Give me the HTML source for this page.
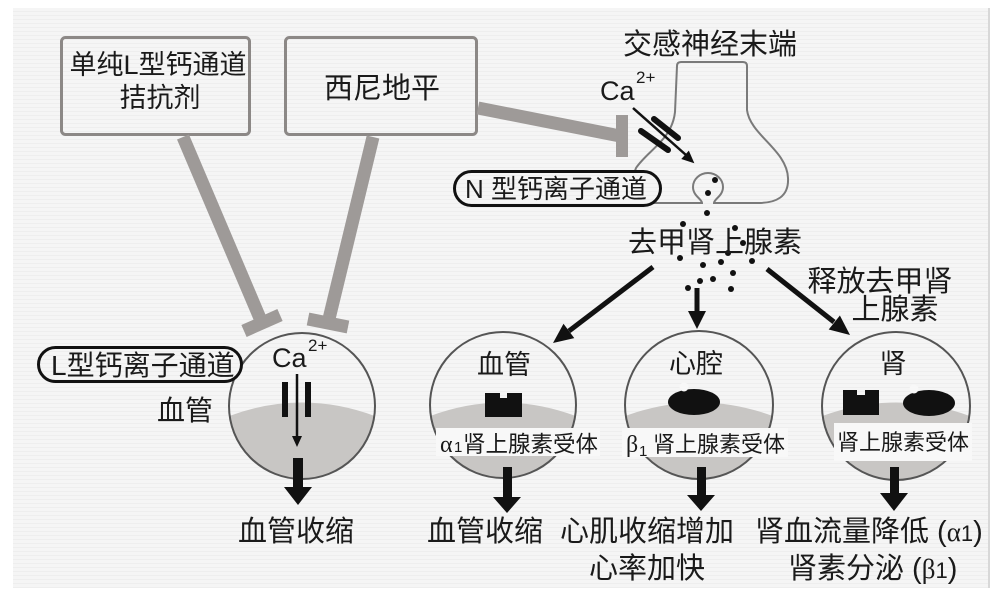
<!DOCTYPE html>
<html><head><meta charset="utf-8"><style>
html,body{margin:0;padding:0;background:#fff;}
svg{display:block;}
text{font-family:"Liberation Sans","Noto Sans CJK SC",sans-serif;fill:#1a1a1a;}
.g{font-family:"Liberation Serif","Noto Sans CJK SC",serif;}
</style></head><body>
<svg width="1000" height="601" viewBox="0 0 1000 601" xmlns="http://www.w3.org/2000/svg">
<defs>
<pattern id="st" width="4" height="4" patternUnits="userSpaceOnUse">
<rect width="4" height="4" fill="#f5f5f5"/><rect y="3" width="4" height="1" fill="#eeeeee"/>
</pattern>
<clipPath id="c1"><circle cx="302" cy="406" r="73"/></clipPath>
<clipPath id="c2"><circle cx="503" cy="405" r="73"/></clipPath>
<clipPath id="c3"><circle cx="699" cy="405" r="74"/></clipPath>
<clipPath id="c4"><circle cx="896" cy="406" r="74"/></clipPath>
</defs>
<rect width="1000" height="601" fill="#fff"/>
<rect x="13" y="8" width="976" height="580" fill="url(#st)"/>
<line x1="989" y1="8" x2="989" y2="588" stroke="#d8d8d8" stroke-width="2"/>

<!-- boxes -->
<rect x="61.5" y="37.5" width="188" height="97" rx="4" fill="none" stroke="#8c8886" stroke-width="3"/>
<rect x="285.5" y="37.5" width="191" height="97" rx="4" fill="none" stroke="#8c8886" stroke-width="3"/>
<text x="158" y="74" font-size="27" text-anchor="middle">单纯L型钙通道</text>
<text x="160" y="107" font-size="27" text-anchor="middle">拮抗剂</text>
<text x="382" y="98" font-size="29" text-anchor="middle">西尼地平</text>

<!-- inhibition lines -->
<g stroke="#9e9a98" stroke-width="13" fill="none">
<line x1="183" y1="137" x2="262" y2="323"/>
<line x1="244" y1="331" x2="280" y2="315"/>
<line x1="373" y1="137" x2="328" y2="323"/>
<line x1="308" y1="319" x2="348" y2="327"/>
<line x1="478" y1="108" x2="620" y2="136"/>
</g>
<rect x="616" y="115" width="12" height="42" fill="#9e9a98"/>

<!-- nerve terminal -->
<text x="710" y="54" font-size="29" text-anchor="middle">交感神经末端</text>
<path d="M 640 203 C 633 196, 631 180, 636 168 C 648 150, 672 140, 675 112 L 677 66 Q 677 62 681 62 L 743 62 Q 747 62 747 66 L 747 110 C 750 135, 787 150, 788 178 C 789 197, 776 203, 758 203 L 714 203 C 714 199, 723 196, 723 187 A 15 14 0 1 0 693 187 C 693 196, 702 199, 702 203 Z" fill="url(#st)" stroke="#7a7a7a" stroke-width="2"/>
<text x="600" y="100" font-size="27">Ca</text>
<text x="636" y="83" font-size="17">2+</text>
<g stroke="#111" stroke-width="6" stroke-linecap="round">
<line x1="654" y1="119" x2="678" y2="138"/>
<line x1="641" y1="131" x2="668" y2="150"/>
</g>
<line x1="633" y1="108" x2="686" y2="155" stroke="#111" stroke-width="2.5"/>
<polygon points="693,162 682.6,158.6 688.6,152" fill="#111" stroke="#111" stroke-width="1.5"/>
<rect x="454.5" y="171.5" width="206" height="34" rx="17" fill="url(#st)" stroke="#111" stroke-width="3"/>
<text x="465" y="198" font-size="26">N 型钙离子通道</text>

<!-- dots -->
<g fill="#111">
<circle cx="715" cy="180" r="3"/><circle cx="708" cy="193" r="3"/><circle cx="707" cy="213" r="3"/>
<circle cx="683" cy="224" r="3"/><circle cx="735" cy="228" r="3"/><circle cx="743" cy="243" r="3"/>
<circle cx="680" cy="258" r="3"/><circle cx="703" cy="265" r="3"/><circle cx="721" cy="262" r="3"/>
<circle cx="728" cy="253" r="3"/><circle cx="752" cy="261" r="3"/><circle cx="733" cy="273" r="3"/>
<circle cx="700" cy="281" r="3"/><circle cx="713" cy="279" r="3"/><circle cx="688" cy="288" r="3"/>
<circle cx="731" cy="289" r="3"/>
</g>
<text x="715" y="252" font-size="29" text-anchor="middle">去甲肾上腺素</text>
<text x="880" y="291" font-size="29" text-anchor="middle">释放去甲肾</text>
<text x="895" y="319" font-size="29" text-anchor="middle">上腺素</text>

<!-- release arrows -->
<g stroke="#111" stroke-width="5">
<line x1="653" y1="267" x2="569" y2="331"/>
<line x1="697" y1="288" x2="697" y2="313"/>
<line x1="767" y1="269" x2="834" y2="322"/>
</g>
<g fill="#111">
<polygon points="553,343 574.3,338.1 563.5,323.7"/>
<polygon points="688,311 706,311 697,329"/>
<polygon points="850,335 828.7,329.5 839.9,315.5"/>
</g>

<!-- circle 1 -->
<g clip-path="url(#c1)"><path d="M 224 418 Q 302 387 380 418 L 380 485 L 224 485 Z" fill="#c8c6c4"/></g>
<circle cx="302" cy="406" r="73" fill="none" stroke="#555" stroke-width="2"/>
<rect x="38.5" y="347.5" width="203" height="34" rx="17" fill="url(#st)" stroke="#111" stroke-width="3"/>
<text x="51" y="375" font-size="28">L型钙离子通道</text>
<text x="185" y="420" font-size="28" text-anchor="middle">血管</text>
<text x="272" y="367" font-size="27">Ca</text>
<text x="308" y="351" font-size="17">2+</text>
<rect x="282" y="382" width="6" height="35" fill="#111"/>
<rect x="305" y="382" width="6" height="35" fill="#111"/>
<line x1="297" y1="374" x2="297" y2="438" stroke="#111" stroke-width="2.5"/>
<polygon points="292,436 302,436 297,447" fill="#111"/>
<rect x="293" y="458" width="10" height="30" fill="#111"/>
<polygon points="284,487 312,487 298,505" fill="#111"/>
<text x="296" y="541" font-size="29" text-anchor="middle">血管收缩</text>

<!-- circle 2 -->
<g clip-path="url(#c2)"><path d="M 425 418 Q 503 387 581 418 L 581 485 L 425 485 Z" fill="#c8c6c4"/></g>
<circle cx="503" cy="405" r="73" fill="none" stroke="#555" stroke-width="2"/>
<rect x="436" y="428" width="164" height="28" fill="#f8f8f8"/>
<text x="504" y="374" font-size="27" text-anchor="middle">血管</text>
<path d="M485 393 L500 393 L500 398 L507 398 L507 393 L522 393 L522 417 L485 417 Z" fill="#111"/>
<text class="g" x="440" y="452" font-size="24">α</text>
<text x="454" y="452" font-size="15">1</text>
<text x="463" y="452" font-size="22.5">肾上腺素受体</text>
<rect x="503" y="467" width="9" height="31" fill="#111"/>
<polygon points="493,497 521,497 507,513" fill="#111"/>
<text x="485" y="541" font-size="29" text-anchor="middle">血管收缩</text>

<!-- circle 3 -->
<g clip-path="url(#c3)"><path d="M 620 418 Q 699 387 778 418 L 778 485 L 620 485 Z" fill="#c8c6c4"/></g>
<circle cx="699" cy="405" r="74" fill="none" stroke="#555" stroke-width="2"/>
<rect x="622" y="428" width="166" height="29" fill="#f8f8f8"/>
<text x="696" y="373" font-size="27" text-anchor="middle">心腔</text>
<ellipse cx="694" cy="402" rx="26" ry="13" fill="#111"/>
<circle cx="684" cy="387" r="4.5" fill="#f8f8f8"/>
<text class="g" x="626" y="452" font-size="24">β</text>
<text x="639" y="456" font-size="15">1</text>
<text x="653" y="452" font-size="22">肾上腺素受体</text>
<rect x="697" y="467" width="9" height="29" fill="#111"/>
<polygon points="687,495 715,495 701,511" fill="#111"/>
<text x="647" y="541" font-size="29" text-anchor="middle">心肌收缩增加</text>
<text x="647" y="578" font-size="29" text-anchor="middle">心率加快</text>

<!-- circle 4 -->
<g clip-path="url(#c4)"><path d="M 817 418 Q 896 387 975 418 L 975 485 L 817 485 Z" fill="#c8c6c4"/></g>
<circle cx="896" cy="406" r="74" fill="none" stroke="#555" stroke-width="2"/>
<rect x="834" y="423" width="138" height="38" fill="#f8f8f8"/>
<text x="893" y="373" font-size="27" text-anchor="middle">肾</text>
<path d="M843 390 L857 390 L857 395 L865 395 L865 390 L879 390 L879 415 L843 415 Z" fill="#111"/>
<ellipse cx="929" cy="403" rx="26" ry="13" fill="#111"/>
<circle cx="914" cy="389" r="4.5" fill="#f8f8f8"/>
<text x="837" y="450" font-size="22">肾上腺素受体</text>
<rect x="890" y="467" width="9" height="27" fill="#111"/>
<polygon points="880,493 908,493 894,511" fill="#111"/>
<text x="755" y="541" font-size="29">肾血流量降低 (<tspan class="g" font-size="27">α</tspan><tspan font-size="22">1</tspan>)</text>
<text x="788" y="578" font-size="29">肾素分泌 (<tspan class="g" font-size="27">β</tspan><tspan font-size="22">1</tspan>)</text>
</svg>
</body></html>
